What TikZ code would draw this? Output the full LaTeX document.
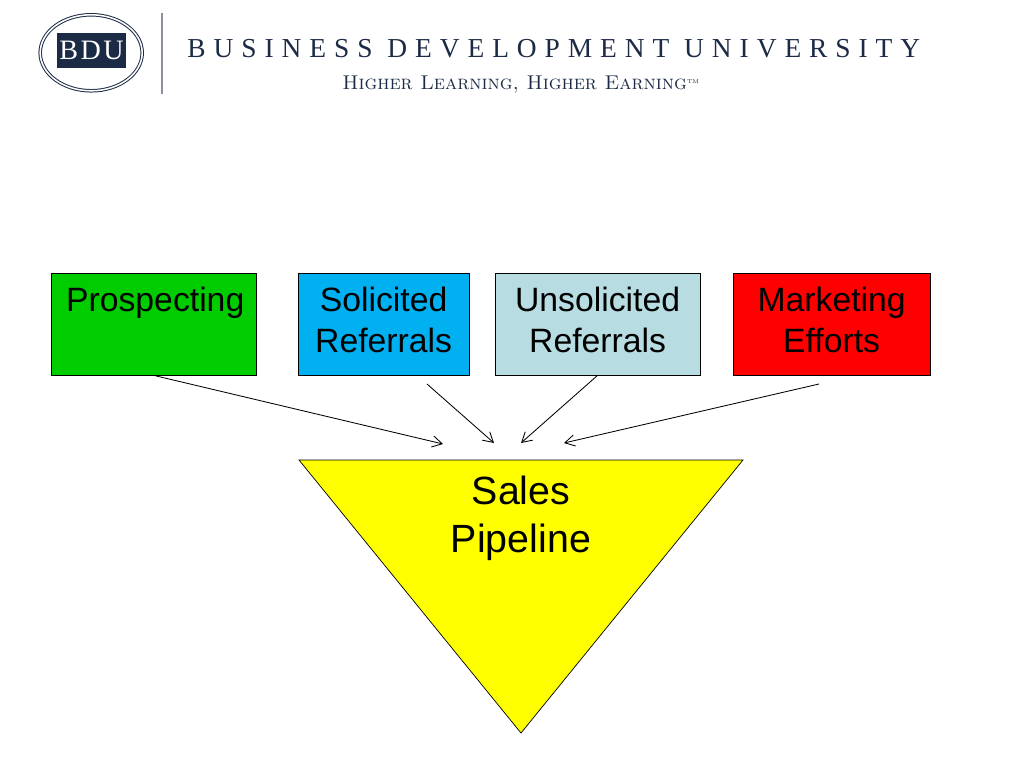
\documentclass[tikz,border=0pt]{standalone}
\usepackage{fontspec}
\setsansfont{Liberation Sans}
\newfontfamily\headfont[LetterSpace=29]{Liberation Serif}
\newfontfamily\logofont[LetterSpace=9]{Liberation Serif}
\usetikzlibrary{arrows.meta,shapes.geometric}
\definecolor{bdunavy}{HTML}{1C2B45}
\definecolor{bdugray}{HTML}{8A919C}
\definecolor{boxgreen}{HTML}{00CC00}
\definecolor{boxblue}{HTML}{00B0F0}
\definecolor{boxteal}{HTML}{B7DDE2}
\definecolor{boxred}{HTML}{FF0000}
\definecolor{boxyellow}{HTML}{FFFF00}
\tikzset{
	sourcebox/.style={draw=black, line width=.5pt, minimum height=2.55cm, inner sep=0pt},
	sourcetext/.style={anchor=north, yshift=-.35cm, align=center, font=\sffamily\fontsize{24}{29}\selectfont, inner sep=0pt},
	feedarrow/.style={line width=.6pt, -{Straight Barb[length=7pt,width=8pt]}}
}
\begin{document}
\begin{tikzpicture}
	\useasboundingbox (0,-19.2) rectangle (25.6,0);

	\node[draw=bdunavy, double=white, double distance=1.1pt, line width=.7pt, ellipse, minimum width=2.55cm, minimum height=1.9cm, inner sep=0pt] (logoring) at (2.28,-1.32) {};
	\node[fill=bdunavy, text=white, minimum width=1.72cm, minimum height=.86cm, inner sep=0pt, font=\logofont\fontsize{20}{20}\selectfont] (logotext) at (2.29,-1.26) {BDU};
	\coordinate (ruletop) at (4.05,-.32);
	\coordinate (rulebottom) at (4.05,-2.36);
	\draw[bdugray, line width=.8pt] (ruletop) -- (rulebottom);
	\node[anchor=base west, inner sep=0pt, text=bdunavy, font=\headfont\fontsize{19.5}{20}\selectfont] (school) at (4.68,-1.45) {BUSINESS DEVELOPMENT UNIVERSITY};
	\node[anchor=base west, inner sep=0pt, text=bdunavy, font=\scshape\fontsize{14.2}{16}\selectfont] (motto) at (8.55,-2.25) {Higher Learning, Higher Earning};
	\node[anchor=base west, inner sep=0pt, text=bdunavy, font=\fontsize{4}{4}\selectfont] (trademark) at (17.17,-2.1) {TM};

	\node[sourcebox, fill=boxgreen, minimum width=5.125cm] (prospecting) at (3.84,-8.1) {};
	\node[sourcebox, fill=boxblue, minimum width=4.275cm] (solicited) at (9.59,-8.1) {};
	\node[sourcebox, fill=boxteal, minimum width=5.125cm] (unsolicited) at (14.94,-8.1) {};
	\node[sourcebox, fill=boxred, minimum width=4.925cm] (marketing) at (20.79,-8.1) {};
	\node[sourcetext, xshift=.04cm] (prospectingtext) at (prospecting.north) {Prospecting};
	\node[sourcetext] (solicitedtext) at (solicited.north) {Solicited\\Referrals};
	\node[sourcetext] (unsolicitedtext) at (unsolicited.north) {Unsolicited\\Referrals};
	\node[sourcetext] (marketingtext) at (marketing.north) {Marketing\\Efforts};

	\coordinate (pipeleft) at (7.475,-11.5);
	\coordinate (piperight) at (18.575,-11.5);
	\coordinate (pipetip) at (13.025,-18.325);
	\draw[fill=boxyellow, line width=.5pt] (pipeleft) -- (piperight) -- (pipetip) -- cycle;
	\node[anchor=north, align=center, inner sep=0pt, font=\sffamily\fontsize{28}{34}\selectfont] (pipeline) at (13.025,-11.9) {Sales\\Pipeline};

	\coordinate (solicitedout) at (10.675,-9.6);
	\coordinate (marketingout) at (20.475,-9.6);
	\coordinate (prospectingin) at (11.075,-11.1);
	\coordinate (solicitedin) at (12.35,-11.075);
	\coordinate (unsolicitedin) at (13.025,-11.075);
	\coordinate (marketingin) at (14.1,-11.075);
	\draw[feedarrow] (prospecting.south) -- (prospectingin);
	\draw[feedarrow] (solicitedout) -- (solicitedin);
	\draw[feedarrow] (unsolicited.south) -- (unsolicitedin);
	\draw[feedarrow] (marketingout) -- (marketingin);
\end{tikzpicture}
\end{document}
